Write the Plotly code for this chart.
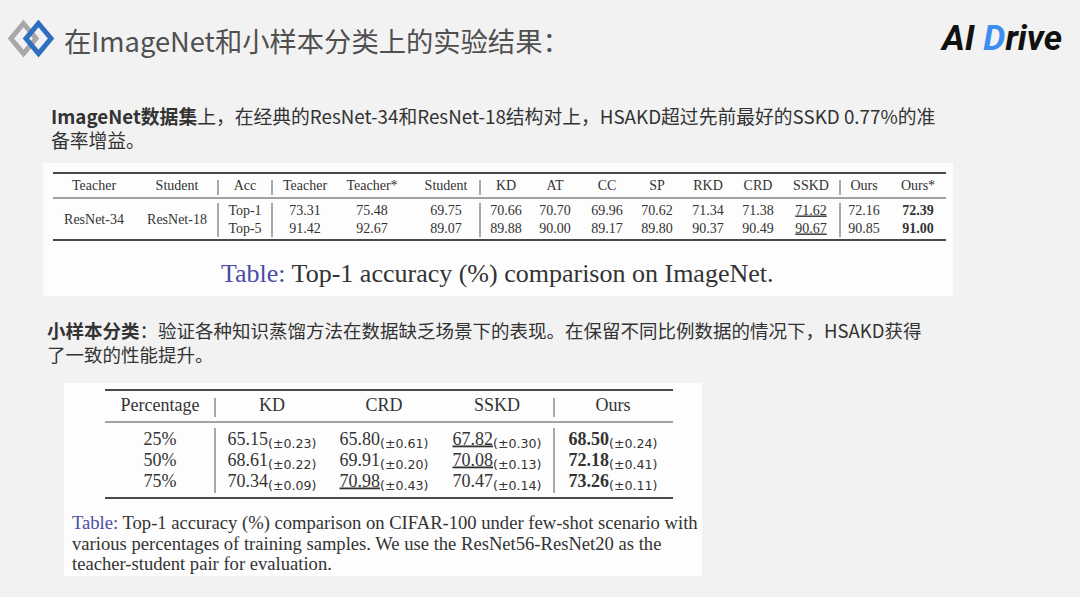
import plotly.graph_objects as go

# ---------------- data ----------------
# Table 1: ImageNet, ResNet-34 -> ResNet-18
t1_pair = ["ResNet-34", "ResNet-18"]
t1_pair_heads = ["Teacher", "Student"]
t1_metrics = ["Top-1", "Top-5"]
t1_methods = ["Teacher", "Teacher*", "Student", "KD", "AT", "CC", "SP",
              "RKD", "CRD", "SSKD", "Ours", "Ours*"]
t1_top1 = [73.31, 75.48, 69.75, 70.66, 70.70, 69.96, 70.62, 71.34, 71.38, 71.62, 72.16, 72.39]
t1_top5 = [91.42, 92.67, 89.07, 89.88, 90.00, 89.17, 89.80, 90.37, 90.49, 90.67, 90.85, 91.00]
t1_baselines = ["KD", "AT", "CC", "SP", "RKD", "CRD", "SSKD"]   # underline best of these
t1_ours = ["Ours", "Ours*"]                                     # bold best of these

# Table 2: CIFAR-100 few-shot
t2_pcts = ["25%", "50%", "75%"]
t2_methods = ["KD", "CRD", "SSKD", "Ours"]
kd_mean = [65.15, 68.61, 70.34]
kd_std = [0.23, 0.22, 0.09]
crd_mean = [65.80, 69.91, 70.98]
crd_std = [0.61, 0.20, 0.43]
sskd_mean = [67.82, 70.08, 70.47]
sskd_std = [0.30, 0.13, 0.14]
ours_mean = [68.50, 72.18, 73.26]
ours_std = [0.24, 0.41, 0.11]

title = "在ImageNet和小样本分类上的实验结果："
sub1_bold = "ImageNet数据集"
sub1_rest = "上，在经典的ResNet-34和ResNet-18结构对上，HSAKD超过先前最好的SSKD 0.77%的准"
sub1_line2 = "备率增益。"
sub2_bold = "小样本分类"
sub2_rest = "：验证各种知识蒸馏方法在数据缺乏场景下的表现。在保留不同比例数据的情况下，HSAKD获得"
sub2_line2 = "了一致的性能提升。"
cap1 = "Top-1 accuracy (%) comparison on ImageNet."
cap2_lines = ["Top-1 accuracy (%) comparison on CIFAR-100 under few-shot scenario with",
              "various percentages of training samples. We use the ResNet56-ResNet20 as the",
              "teacher-student pair for evaluation."]

# ---------------- layout constants ----------------
W, H = 1080, 597
BG = "#f2f2f2"
INK = "#333333"
RULE = "#4a4a4a"
SERIF = "Liberation Serif"
CJK = "Noto Sans CJK SC"
BLUE_CAP = "#4b4ba8"

T1_X = [305, 372, 446, 506, 555, 607, 657, 708, 758, 811, 864, 918]
T1_PAIR_X = [94, 177]
T1_ACC_X = 245
T1_HEAD_Y, T1_ROWS_Y = 186, [211, 229]
T1_VLINES = [218, 272, 480, 840]

T2_X = [160, 272, 384, 497, 613]
T2_HEAD_Y, T2_ROWS_Y = 406, [440, 461, 482]
T2_VLINES = [215, 554]

fig = go.Figure()
shapes = []
annos = []


def hline(x0, x1, y, w):
    shapes.append(dict(type="line", xref="x", yref="y", x0=x0, x1=x1, y0=y, y1=y,
                       line=dict(color=RULE, width=w)))


def vline(x, y0, y1):
    shapes.append(dict(type="line", xref="x", yref="y", x0=x, x1=x, y0=y0, y1=y1,
                       line=dict(color="#555555", width=1)))


def box(x0, y0, x1, y1):
    shapes.append(dict(type="rect", xref="x", yref="y", x0=x0, x1=x1, y0=y0, y1=y1,
                       fillcolor="#fdfdfd", line=dict(width=0), layer="below"))


def text(x, y, s, size, color=INK, family=CJK, anchor="left"):
    annos.append(dict(x=x, y=y, xref="x", yref="y", text=s, showarrow=False,
                      xanchor=anchor, yanchor="middle", align="left",
                      font=dict(family=family, size=size, color=color)))


# ---------------- header ----------------
# logo: two diamonds
for cx, col in [(23.5, "#a8a8a8"), (38.5, "#2e6fc0")]:
    shapes.append(dict(type="path", xref="x", yref="y",
                       path=f"M {cx},{38.5 - 15} L {cx + 12.5},38.5 L {cx},{38.5 + 15} L {cx - 12.5},38.5 Z",
                       line=dict(color=col, width=5), fillcolor="rgba(0,0,0,0)"))
text(62, 40, title, 27.3, color="#505050")
text(1001, 38, '<b><i>AI <span style="color:#3d8ef0">D</span>rive</i></b>', 35,
     color="#111111", family="Roboto", anchor="center")

text(49, 127, f"<b>{sub1_bold}</b>{sub1_rest}<br>{sub1_line2}", 18.8)
text(45, 342, f"<b>{sub2_bold}</b>{sub2_rest}<br>{sub2_line2}", 18.5)

# ---------------- table 1 ----------------
box(43, 163, 953, 296)
hline(53, 946, 173, 2)
hline(53, 946, 198, 1.2)
hline(53, 946, 240, 2)
for vx in T1_VLINES:
    vline(vx, 180, 195)
    vline(vx, 203, 237)

rows1 = [t1_top1, t1_top5]
xs, ys, ts = [], [], []
for x, h in zip(T1_PAIR_X, t1_pair_heads):
    xs.append(x); ys.append(T1_HEAD_Y); ts.append(h)
xs.append(T1_ACC_X); ys.append(T1_HEAD_Y); ts.append("Acc")
for x, m in zip(T1_X, t1_methods):
    xs.append(x); ys.append(T1_HEAD_Y); ts.append(m)
for x, p in zip(T1_PAIR_X, t1_pair):
    xs.append(x); ys.append(sum(T1_ROWS_Y) / 2); ts.append(p)
for y, metric, vals in zip(T1_ROWS_Y, t1_metrics, rows1):
    xs.append(T1_ACC_X); ys.append(y); ts.append(metric)
    base_best = max(v for m, v in zip(t1_methods, vals) if m in t1_baselines)
    ours_best = max(v for m, v in zip(t1_methods, vals) if m in t1_ours)
    for x, m, v in zip(T1_X, t1_methods, vals):
        s = f"{v:.2f}"
        if m in t1_baselines and v == base_best:
            s = f"<u>{s}</u>"
        if m in t1_ours and v == ours_best:
            s = f"<b>{s}</b>"
        xs.append(x); ys.append(y); ts.append(s)
fig.add_trace(go.Scatter(x=xs, y=ys, text=ts, mode="text", textposition="middle center",
                         textfont=dict(family=SERIF, size=14, color=INK),
                         hoverinfo="skip", cliponaxis=False, showlegend=False))

text(497, 273, f'<span style="color:{BLUE_CAP}">Table:</span> {cap1}', 26,
     family=SERIF, anchor="center")

# ---------------- table 2 ----------------
box(64, 383, 702, 576)
hline(105, 673, 390, 2)
hline(105, 673, 422, 1.2)
hline(105, 673, 498, 2)
for vx in T2_VLINES:
    vline(vx, 398, 417)
    vline(vx, 428, 493)

means = [kd_mean, crd_mean, sskd_mean, ours_mean]
stds = [kd_std, crd_std, sskd_std, ours_std]
xs, ys, ts = [], [], []
for x, h in zip(T2_X, ["Percentage"] + t2_methods):
    xs.append(x); ys.append(T2_HEAD_Y); ts.append(h)
for i, (y, pct) in enumerate(zip(T2_ROWS_Y, t2_pcts)):
    xs.append(T2_X[0]); ys.append(y); ts.append(pct)
    row = [m[i] for m in means]
    ranked = sorted(row, reverse=True)
    for x, mvals, svals in zip(T2_X[1:], means, stds):
        v, sd = mvals[i], svals[i]
        s = f"{v:.2f}"
        if v == ranked[0]:
            s = f"<b>{s}</b>"
        elif v == ranked[1]:
            s = f"<u>{s}</u>"
        s += f'<sub><span style="font-family:DejaVu Sans;font-size:12.6px">(±{sd:.2f})</span></sub>'
        xs.append(x); ys.append(y); ts.append(s)
fig.add_trace(go.Scatter(x=xs, y=ys, text=ts, mode="text", textposition="middle center",
                         textfont=dict(family=SERIF, size=18, color=INK),
                         hoverinfo="skip", cliponaxis=False, showlegend=False))

for k, (y, line) in enumerate(zip([523, 543, 563], cap2_lines)):
    s = f'<span style="color:{BLUE_CAP}">Table:</span> {line}' if k == 0 else line
    text(70, y, s, 18.6, family=SERIF)

fig.update_layout(
    width=W, height=H,
    margin=dict(l=0, r=0, t=0, b=0),
    paper_bgcolor=BG, plot_bgcolor=BG,
    xaxis=dict(range=[0, W], visible=False, fixedrange=True),
    yaxis=dict(range=[H, 0], visible=False, fixedrange=True),
    shapes=shapes, annotations=annos,
    showlegend=False,
)
# remove the page's default body margin so the slide fills the window
fig.write_html("out.html", config={"displayModeBar": False},
               post_script="document.body.style.margin='0';document.body.style.overflow='hidden';")
